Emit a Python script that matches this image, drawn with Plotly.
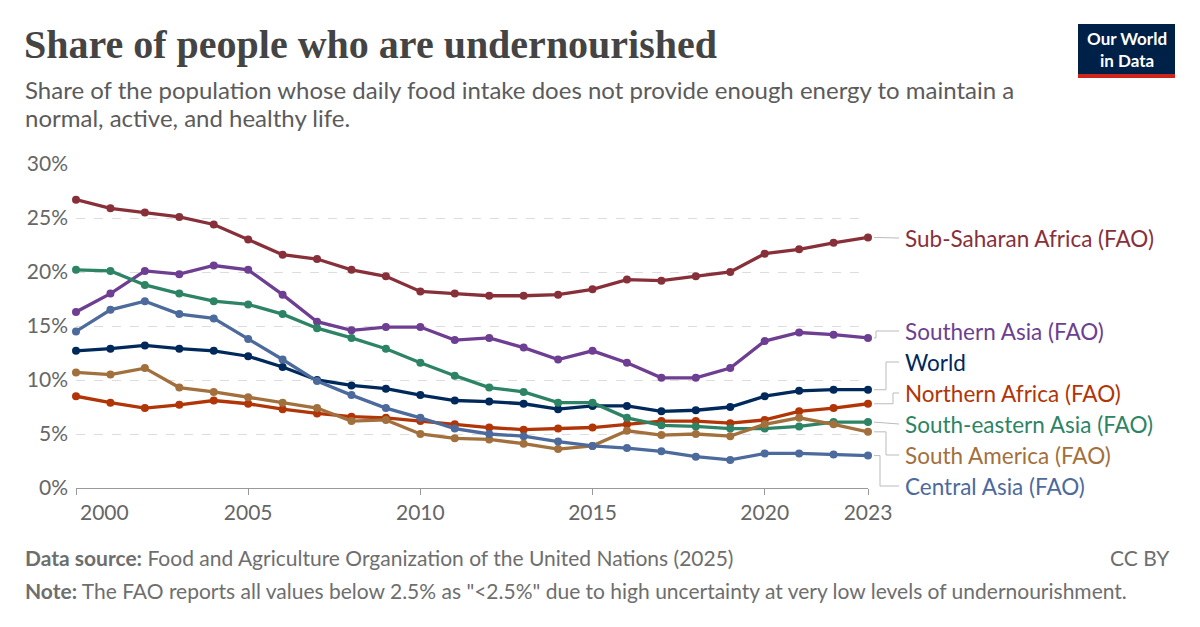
import plotly.graph_objects as go

years = list(range(2000, 2024))
sub_saharan = [26.7,25.9,25.5,25.1,24.4,23.0,21.6,21.2,20.2,19.6,18.2,18.0,17.8,17.8,17.9,18.4,19.3,19.2,19.6,20.0,21.7,22.1,22.7,23.2]
southern_asia = [16.3,18.0,20.1,19.8,20.6,20.2,17.9,15.4,14.6,14.9,14.9,13.7,13.9,13.0,11.9,12.7,11.6,10.2,10.2,11.1,13.6,14.4,14.2,13.9]
world = [12.7,12.9,13.2,12.9,12.7,12.2,11.2,10.0,9.5,9.2,8.6,8.1,8.0,7.8,7.3,7.6,7.6,7.1,7.2,7.5,8.5,9.0,9.1,9.1]
northern_africa = [8.5,7.9,7.4,7.7,8.1,7.8,7.3,6.9,6.6,6.5,6.2,5.9,5.6,5.4,5.5,5.6,5.9,6.2,6.2,6.0,6.3,7.1,7.4,7.8]
se_asia = [20.2,20.1,18.8,18.0,17.3,17.0,16.1,14.8,13.9,12.9,11.6,10.4,9.3,8.9,7.9,7.9,6.5,5.8,5.7,5.5,5.5,5.7,6.1,6.1]
south_america = [10.7,10.5,11.1,9.3,8.9,8.4,7.9,7.4,6.2,6.3,5.0,4.6,4.5,4.1,3.6,3.9,5.3,4.9,5.0,4.8,5.9,6.5,5.9,5.2]
central_asia = [14.5,16.5,17.3,16.1,15.7,13.8,11.9,9.9,8.6,7.4,6.5,5.5,5.0,4.8,4.3,3.9,3.7,3.4,2.9,2.6,3.2,3.2,3.1,3.0]

names = ["Sub-Saharan Africa (FAO)", "Southern Asia (FAO)", "World", "Northern Africa (FAO)",
         "South-eastern Asia (FAO)", "South America (FAO)", "Central Asia (FAO)"]
series = [sub_saharan, southern_asia, world, northern_africa, se_asia, south_america, central_asia]
colors = ["#883039", "#6D3E91", "#00295B", "#B13507", "#2C8465", "#A2703C", "#4C6A9C"]
# label vertical pixel positions and bend x pixel positions (layout)
label_py = [238, 331, 362, 393, 424, 455, 486]
bend_px = [None, 876, 886, 893, None, 886, 880]

y_ticks = [0, 5, 10, 15, 20, 25, 30]
x_ticks = [2000, 2005, 2010, 2015, 2020, 2023]

W, H = 1200, 627
L, R, T, B = 76, 332, 164, 139
PW, PH = W - L - R, H - T - B

def px2paper_x(px):
    return (px - L) / PW

def py2paper_y(py):
    return (H - B - py) / PH

def py2data_y(py):
    return (H - B - py) / PH * 30

fig = go.Figure()
for name, vals, col in zip(names, series, colors):
    fig.add_trace(go.Scatter(x=years, y=vals, name=name, mode="lines+markers",
                             line=dict(color=col, width=3.3), marker=dict(size=8, color=col),
                             cliponaxis=False, showlegend=False))

annotations = []
shapes = []
for name, vals, col, lpy, bpx in zip(names, series, colors, label_py, bend_px):
    ly = py2data_y(lpy)
    last = vals[-1]
    x0 = px2paper_x(874)
    xe = px2paper_x(899)
    if bpx is None:
        shapes.append(dict(type="line", xref="paper", yref="y", x0=x0, x1=xe, y0=last, y1=ly,
                           line=dict(color="#bbbbbb", width=1)))
    else:
        xb = px2paper_x(bpx)
        shapes.append(dict(type="line", xref="paper", yref="y", x0=x0, x1=xb, y0=last, y1=last,
                           line=dict(color="#bbbbbb", width=1)))
        shapes.append(dict(type="line", xref="paper", yref="y", x0=xb, x1=xb, y0=last, y1=ly,
                           line=dict(color="#bbbbbb", width=1)))
        shapes.append(dict(type="line", xref="paper", yref="y", x0=xb, x1=xe, y0=ly, y1=ly,
                           line=dict(color="#bbbbbb", width=1)))
    annotations.append(dict(text=name, xref="paper", yref="paper", x=px2paper_x(903), y=py2paper_y(lpy),
                            xanchor="left", yanchor="middle", showarrow=False,
                            font=dict(family="Lato", size=22.5, color=col)))

# "2000" label shifted right as in reference
annotations.append(dict(text="2000", xref="x", yref="paper", x=2000, y=py2paper_y(497),
                        xanchor="left", yanchor="top", xshift=2, showarrow=False,
                        font=dict(family="Lato", size=21, color="#666666")))

# Title & subtitle
annotations.append(dict(text="<b>Share of people who are undernourished</b>", xref="paper", yref="paper",
                        x=px2paper_x(22), y=py2paper_y(20), xanchor="left", yanchor="top", showarrow=False,
                        font=dict(family="Liberation Serif", size=40, color="#444444")))
sub_lines = ["Share of the population whose daily food intake does not provide enough energy to maintain a",
             "normal, active, and healthy life."]
for i, s in enumerate(sub_lines):
    annotations.append(dict(text=s, xref="paper", yref="paper", x=px2paper_x(23), y=py2paper_y(89 + 28 * i),
                            xanchor="left", yanchor="middle", align="left", showarrow=False,
                            font=dict(family="Lato", size=24, color="#5b5b5b")))
# Footer
annotations.append(dict(text="<b>Data source:</b> Food and Agriculture Organization of the United Nations (2025)",
                        xref="paper", yref="paper", x=px2paper_x(23), y=py2paper_y(557), xanchor="left", yanchor="middle",
                        showarrow=False, font=dict(family="Lato", size=21, color="#6e6e6e")))
annotations.append(dict(text="<b>Note:</b> The FAO reports all values below 2.5% as \"<2.5%\" due to high uncertainty at very low levels of undernourishment.",
                        xref="paper", yref="paper", x=px2paper_x(23), y=py2paper_y(590), xanchor="left", yanchor="middle",
                        showarrow=False, font=dict(family="Lato", size=21, color="#6e6e6e")))
annotations.append(dict(text="CC BY", xref="paper", yref="paper", x=px2paper_x(1172), y=py2paper_y(557),
                        xanchor="right", yanchor="middle", showarrow=False,
                        font=dict(family="Lato", size=21, color="#6e6e6e")))
# Logo
shapes.append(dict(type="rect", xref="paper", yref="paper", x0=px2paper_x(1078), x1=px2paper_x(1175),
                   y0=py2paper_y(78), y1=py2paper_y(24), fillcolor="#002147", line=dict(width=0)))
shapes.append(dict(type="rect", xref="paper", yref="paper", x0=px2paper_x(1078), x1=px2paper_x(1175),
                   y0=py2paper_y(78), y1=py2paper_y(74), fillcolor="#ce261e", line=dict(width=0)))
annotations.append(dict(text="<b>Our World<br>in Data</b>", xref="paper", yref="paper",
                        x=px2paper_x(1127), y=py2paper_y(49), xanchor="center", yanchor="middle",
                        align="center", showarrow=False,
                        font=dict(family="Lato", size=17, color="white")))

fig.update_layout(
    width=W, height=H, margin=dict(l=L, r=R, t=T, b=B),
    paper_bgcolor="white", plot_bgcolor="white",
    annotations=annotations, shapes=shapes,
    xaxis=dict(range=[2000, 2023], tickvals=x_ticks, ticktext=[""] + [str(v) for v in x_ticks[1:]],
               showgrid=False, zeroline=False, showline=True, linecolor="#999999", linewidth=1,
               ticks="outside", ticklen=6, tickcolor="#999999",
               tickfont=dict(family="Lato", size=21, color="#666666")),
    yaxis=dict(range=[0, 30], tickvals=y_ticks, ticktext=[f"{v}%" for v in y_ticks],
               showgrid=True, gridcolor="#dddddd", griddash="dash", zeroline=False, showline=False,
               ticks="", ticklabelstandoff=7,
               tickfont=dict(family="Lato", size=21, color="#666666")),
)

fig.write_html("out.html", config={"displayModeBar": False},
               post_script="document.body.style.margin='0';")
